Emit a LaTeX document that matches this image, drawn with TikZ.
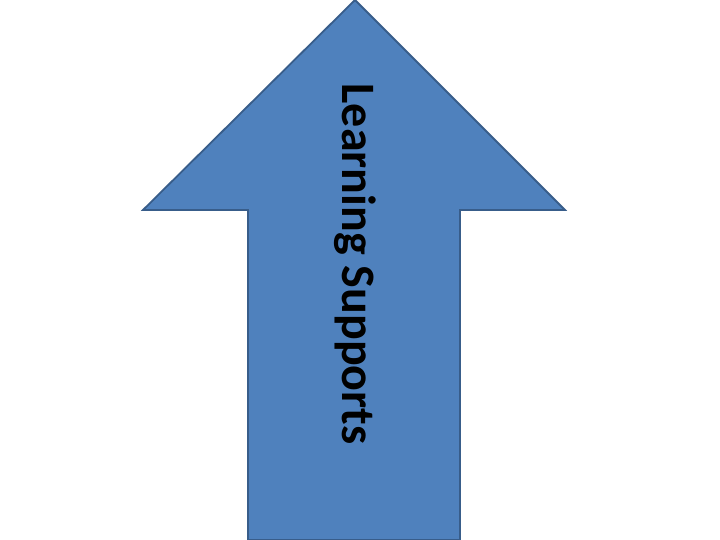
\documentclass[tikz,border=0pt]{standalone}
\usepackage{fontspec}
\setmainfont{Carlito}
\usepackage{tikz}

\definecolor{arrowfill}{HTML}{4F81BD}
\definecolor{arrowline}{HTML}{385D8A}

\begin{document}
\begin{tikzpicture}[x=1pt,y=1pt,
    bigarrow/.style={fill=arrowfill,draw=arrowline,line width=1.8pt,line join=miter},
    arrowtext/.style={font=\fontsize{48}{56}\selectfont\bfseries,rotate=-90,inner sep=0pt}]
\useasboundingbox (0,0) rectangle (720,540);
% arrow pointing up
\draw[bigarrow] (248,0) -- (248,330) -- (143,330) -- (355,540)
      -- (565,330) -- (460,330) -- (460,0) -- cycle;
\node[arrowtext] (supports) at (355,276) {Learning Supports};
\end{tikzpicture}
\end{document}
